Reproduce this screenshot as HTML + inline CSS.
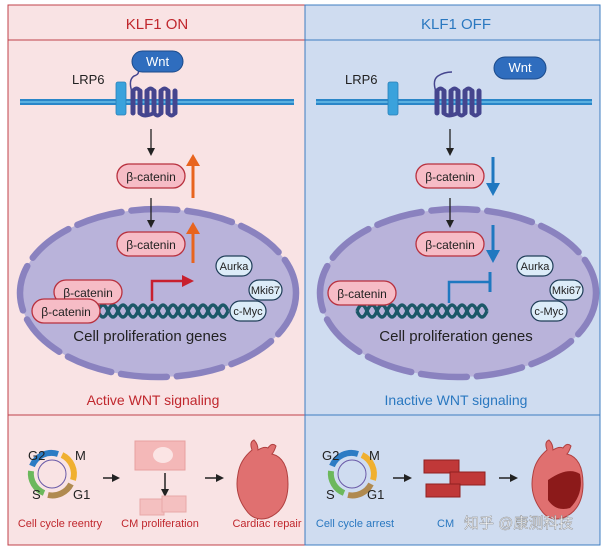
<!DOCTYPE html>
<html><head><meta charset="utf-8"><style>
html,body{margin:0;padding:0;background:#fff;}
svg{display:block;font-family:"Liberation Sans","Noto Sans CJK SC",sans-serif;}
</style></head><body>
<svg width="609" height="550" viewBox="0 0 609 550" xmlns="http://www.w3.org/2000/svg">
<defs>
<marker id="ab" markerWidth="8" markerHeight="8" refX="6" refY="4" orient="auto" markerUnits="userSpaceOnUse"><path d="M0,0 L8,4 L0,8 z" fill="#222"/></marker>
<marker id="ar" markerWidth="12" markerHeight="12" refX="8" refY="6" orient="auto" markerUnits="userSpaceOnUse"><path d="M0,0 L12,6 L0,12 z" fill="#c8202e"/></marker>
<g id="pill"><rect x="-34" y="-12" width="68" height="24" rx="12" fill="#f6bcc6" stroke="#b8303e" stroke-width="1.3"/><text x="0" y="5" font-size="12" text-anchor="middle" fill="#222">β-catenin</text></g>
<g id="rec" fill="none" stroke="#45458e" stroke-width="5" stroke-linecap="round">
<path d="M0,0 v22 M7,0 v22 M14,0 v22 M21,0 v22 M28,0 v22 M35,0 v22 M42,0 v22"/>
<path d="M0,0 q3.5,-5 7,0 M14,0 q3.5,-5 7,0 M28,0 q3.5,-5 7,0 M7,22 q3.5,5 14,0 M21,22 q3.5,5 7,0 M35,22 q3.5,5 7,0" stroke-width="4"/>
</g>
<g id="nuc">
<ellipse cx="0" cy="0" rx="138" ry="84" fill="#b9b3da" stroke="#8a82bf" stroke-width="6.5" stroke-dasharray="46 10" stroke-linecap="round"/>
</g>
<g id="dna" fill="none" stroke="#1c5868" stroke-width="3.5">
<path d="M0,0 q5,-12 10,0 t10,0 t10,0 t10,0 t10,0 t10,0 t10,0 t10,0 t10,0 t10,0 t10,0 t10,0 t10,0"/>
<path d="M0,0 q5,12 10,0 t10,0 t10,0 t10,0 t10,0 t10,0 t10,0 t10,0 t10,0 t10,0 t10,0 t10,0 t10,0"/>
</g>
<g id="genes" font-size="11" text-anchor="middle" fill="#222">
<rect x="0" y="0" width="36" height="20" rx="10" fill="#dcecf8" stroke="#1f3e58" stroke-width="1.2"/><text x="18" y="14">Aurka</text>
<rect x="33" y="24" width="33" height="20" rx="10" fill="#dcecf8" stroke="#1f3e58" stroke-width="1.2"/><text x="49.5" y="38">Mki67</text>
<rect x="14" y="45" width="36" height="20" rx="10" fill="#dcecf8" stroke="#1f3e58" stroke-width="1.2"/><text x="32" y="59">c-Myc</text>
</g>
<g id="cyc" fill="none" stroke-width="6">
<path d="M-20,-8 A21,21 0 0 1 6,-20" stroke="#2c7cc4"/>
<path d="M10,-19 A21,21 0 0 1 21,6" stroke="#f0b030"/>
<path d="M19,10 A21,21 0 0 1 -4,21" stroke="#b08a50"/>
<path d="M-8,19 A21,21 0 0 1 -21,-3" stroke="#6cb85c"/>
<circle r="14" stroke="#6a5aa8" stroke-width="1"/>
</g>
<g id="heart">
<path d="M-10,-32 q-3,-8 2,-10 q4,4 4,10 q6,-4 10,-2 q4,-6 8,-2 q-2,6 -4,8 q16,4 16,30 q0,26 -20,34 q-14,4 -22,-8 q-12,-16 -8,-36 q2,-14 14,-24z" fill="#e07070" stroke="#b04040" stroke-width="1"/>
</g>
</defs>

<rect x="8" y="5" width="297" height="540" fill="#f9e3e4" stroke="#c0404a" stroke-width="1"/>
<line x1="8" y1="40" x2="305" y2="40" stroke="#c0404a"/>
<line x1="8" y1="415" x2="305" y2="415" stroke="#c0404a"/>
<text x="157" y="29" font-size="15" text-anchor="middle" fill="#c0272d">KLF1 ON</text>

<rect x="305" y="5" width="295" height="540" fill="#cfdcf0" stroke="#3d7cc0" stroke-width="1"/>
<line x1="305" y1="40" x2="600" y2="40" stroke="#3d7cc0"/>
<line x1="305" y1="415" x2="600" y2="415" stroke="#3d7cc0"/>
<text x="456" y="29" font-size="15" text-anchor="middle" fill="#2a78c0">KLF1 OFF</text>

<line x1="20" y1="102" x2="294" y2="102" stroke="#2a86c8" stroke-width="6"/>
<line x1="20" y1="102" x2="294" y2="102" stroke="#5ab0e0" stroke-width="2"/>
<rect x="116" y="82" width="10" height="33" rx="2" fill="#3aa2dc" stroke="#2a80b8" stroke-width="0.8"/>
<text x="72" y="84" font-size="13" fill="#222">LRP6</text>
<path d="M132,92 q-4,-12 2,-16 q6,-2 4,-6" fill="none" stroke="#45458e" stroke-width="1.5"/>
<rect x="132" y="51" width="51" height="21" rx="10.5" fill="#2f6dbe" stroke="#1c4a8a"/>
<text x="157.5" y="66" font-size="13" text-anchor="middle" fill="#fff">Wnt</text>
<use href="#rec" x="133" y="91"/>
<line x1="151" y1="129" x2="151" y2="154" stroke="#222" stroke-width="1.3" marker-end="url(#ab)"/>
<use href="#pill" x="151" y="176"/>
<line x1="193" y1="198" x2="193" y2="160" stroke="#e8641e" stroke-width="3"/><path d="M186,166 L193,154 L200,166z" fill="#e8641e"/>
<use href="#nuc" x="158" y="293"/>
<line x1="151" y1="198" x2="151" y2="226" stroke="#222" stroke-width="1.3" marker-end="url(#ab)"/>
<use href="#pill" x="151" y="244"/>
<line x1="193" y1="263" x2="193" y2="230" stroke="#e8641e" stroke-width="3"/><path d="M186,234 L193,222 L200,234z" fill="#e8641e"/>
<use href="#dna" x="98" y="311"/>
<path d="M152,301 V281 H190" fill="none" stroke="#c8202e" stroke-width="2.5" marker-end="url(#ar)"/>
<use href="#pill" x="88" y="292"/>
<use href="#pill" x="66" y="311"/>
<use href="#genes" x="216" y="256"/>
<text x="150" y="341" font-size="15" text-anchor="middle" fill="#222">Cell proliferation genes</text>
<text x="153" y="405" font-size="14" text-anchor="middle" fill="#c0272d">Active WNT signaling</text>

<line x1="316" y1="102" x2="592" y2="102" stroke="#2a86c8" stroke-width="6"/>
<line x1="316" y1="102" x2="592" y2="102" stroke="#5ab0e0" stroke-width="2"/>
<rect x="388" y="82" width="10" height="33" rx="2" fill="#3aa2dc" stroke="#2a80b8" stroke-width="0.8"/>
<text x="345" y="84" font-size="13" fill="#222">LRP6</text>
<path d="M436,92 q-4,-12 2,-16 q6,-4 14,-4" fill="none" stroke="#45458e" stroke-width="1.5"/>
<rect x="494" y="57" width="52" height="22" rx="11" fill="#2f6dbe" stroke="#1c4a8a"/>
<text x="520" y="72" font-size="13" text-anchor="middle" fill="#fff">Wnt</text>
<use href="#rec" x="437" y="91"/>
<line x1="450" y1="129" x2="450" y2="154" stroke="#222" stroke-width="1.3" marker-end="url(#ab)"/>
<use href="#pill" x="450" y="176"/>
<line x1="493" y1="157" x2="493" y2="188" stroke="#1f78c0" stroke-width="3"/><path d="M486,183 L493,196 L500,183z" fill="#1f78c0"/>
<use href="#nuc" x="458" y="293"/>
<line x1="450" y1="198" x2="450" y2="226" stroke="#222" stroke-width="1.3" marker-end="url(#ab)"/>
<use href="#pill" x="450" y="244"/>
<line x1="493" y1="225" x2="493" y2="255" stroke="#1f78c0" stroke-width="3"/><path d="M486,250 L493,263 L500,250z" fill="#1f78c0"/>
<use href="#dna" x="357" y="311"/>
<path d="M449,303 V282 H490" fill="none" stroke="#1f78c0" stroke-width="2.5"/>
<line x1="490" y1="272" x2="490" y2="292" stroke="#1f78c0" stroke-width="3"/>
<use href="#pill" x="362" y="293"/>
<use href="#genes" x="517" y="256"/>
<text x="456" y="341" font-size="15" text-anchor="middle" fill="#222">Cell proliferation genes</text>
<text x="456" y="405" font-size="14" text-anchor="middle" fill="#2a78c0">Inactive WNT signaling</text>

<use href="#cyc" x="52" y="474"/>
<g font-size="13" fill="#222"><text x="28" y="460">G2</text><text x="75" y="460">M</text><text x="32" y="499">S</text><text x="73" y="499">G1</text></g>
<line x1="103" y1="478" x2="118" y2="478" stroke="#222" stroke-width="1.5" marker-end="url(#ab)"/>
<rect x="135" y="441" width="50" height="29" fill="#f4b8b8" stroke="#e8a0a0"/>
<ellipse cx="163" cy="455" rx="10" ry="8" fill="#fbe4e4"/>
<line x1="165" y1="473" x2="165" y2="495" stroke="#222" stroke-width="1.5" marker-end="url(#ab)"/>
<rect x="140" y="499" width="24" height="16" fill="#f4c0c0" stroke="#e8a8a8"/>
<rect x="162" y="496" width="24" height="16" fill="#f4c0c0" stroke="#e8a8a8"/>
<line x1="205" y1="478" x2="222" y2="478" stroke="#222" stroke-width="1.5" marker-end="url(#ab)"/>
<use href="#heart" x="262" y="482"/>
<g font-size="11" text-anchor="middle" fill="#c0272d"><text x="60" y="527">Cell cycle reentry</text><text x="160" y="527">CM proliferation</text><text x="267" y="527">Cardiac repair</text></g>

<use href="#cyc" x="352" y="474"/>
<g font-size="13" fill="#222"><text x="322" y="460">G2</text><text x="369" y="460">M</text><text x="326" y="499">S</text><text x="367" y="499">G1</text></g>
<line x1="393" y1="478" x2="410" y2="478" stroke="#222" stroke-width="1.5" marker-end="url(#ab)"/>
<rect x="424" y="460" width="35" height="13" fill="#c03838" stroke="#902020"/>
<rect x="450" y="472" width="35" height="13" fill="#c03838" stroke="#902020"/>
<rect x="426" y="484" width="34" height="13" fill="#c03838" stroke="#902020"/>
<line x1="499" y1="478" x2="516" y2="478" stroke="#222" stroke-width="1.5" marker-end="url(#ab)"/>
<use href="#heart" x="557" y="482"/>
<path d="M548,480 q20,-14 32,-6 q4,20 -10,34 q-14,4 -22,-8z" fill="#8c1a1a"/>
<g font-size="11" fill="#2a78c0"><text x="355" y="527" text-anchor="middle">Cell cycle arrest</text><text x="437" y="527">CM</text></g>
<text x="464" y="528" font-size="15" fill="#ffffff" fill-opacity="0.85" stroke="#888" stroke-width="0.4">知乎 @康测科技</text>
</svg>
</body></html>
